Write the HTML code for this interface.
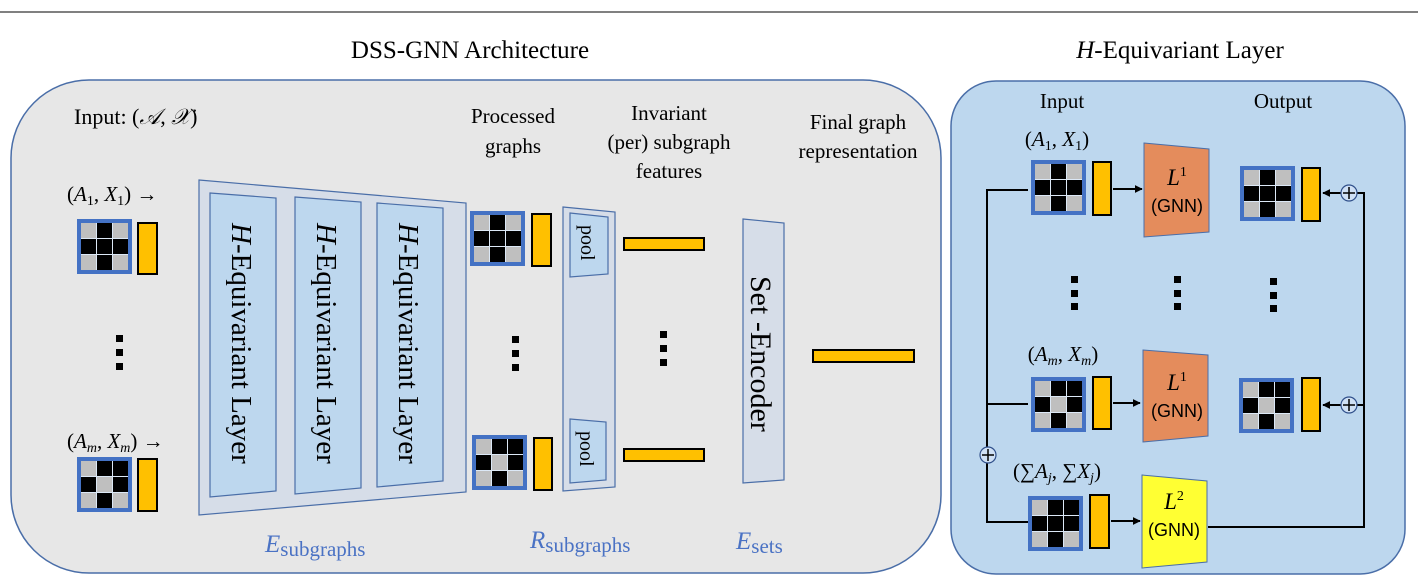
<!DOCTYPE html>
<html><head><meta charset="utf-8"><style>
html,body{margin:0;padding:0;background:#fff}
svg{display:block}
.s{font-family:"Liberation Serif",serif;fill:#000}
.m{font-family:"Liberation Serif",serif;font-style:italic}
.g{font-family:"Liberation Sans",sans-serif}
</style></head><body>
<svg width="1418" height="586" viewBox="0 0 1418 586" xmlns="http://www.w3.org/2000/svg">
<defs>
<symbol id="p1" viewBox="0 0 55 55" width="55" height="55">
<rect width="55" height="55" fill="#4472c4"/><rect x="4" y="4" width="47" height="47" fill="#dce8f6"/>
<rect x="4" y="4" width="15" height="15" fill="#bfbfbf"/><rect x="20" y="4" width="15" height="15" fill="#000"/><rect x="36" y="4" width="15" height="15" fill="#bfbfbf"/>
<rect x="4" y="20" width="15" height="15" fill="#000"/><rect x="20" y="20" width="15" height="15" fill="#000"/><rect x="36" y="20" width="15" height="15" fill="#000"/>
<rect x="4" y="36" width="15" height="15" fill="#bfbfbf"/><rect x="20" y="36" width="15" height="15" fill="#000"/><rect x="36" y="36" width="15" height="15" fill="#bfbfbf"/>
</symbol>
<symbol id="p2" viewBox="0 0 55 55" width="55" height="55">
<rect width="55" height="55" fill="#4472c4"/><rect x="4" y="4" width="47" height="47" fill="#dce8f6"/>
<rect x="4" y="4" width="15" height="15" fill="#bfbfbf"/><rect x="20" y="4" width="15" height="15" fill="#000"/><rect x="36" y="4" width="15" height="15" fill="#000"/>
<rect x="4" y="20" width="15" height="15" fill="#000"/><rect x="20" y="20" width="15" height="15" fill="#bfbfbf"/><rect x="36" y="20" width="15" height="15" fill="#000"/>
<rect x="4" y="36" width="15" height="15" fill="#bfbfbf"/><rect x="20" y="36" width="15" height="15" fill="#000"/><rect x="36" y="36" width="15" height="15" fill="#bfbfbf"/>
</symbol>
<symbol id="p3" viewBox="0 0 55 55" width="55" height="55">
<rect width="55" height="55" fill="#4472c4"/><rect x="4" y="4" width="47" height="47" fill="#dce8f6"/>
<rect x="4" y="4" width="15" height="15" fill="#bfbfbf"/><rect x="20" y="4" width="15" height="15" fill="#000"/><rect x="36" y="4" width="15" height="15" fill="#000"/>
<rect x="4" y="20" width="15" height="15" fill="#000"/><rect x="20" y="20" width="15" height="15" fill="#000"/><rect x="36" y="20" width="15" height="15" fill="#000"/>
<rect x="4" y="36" width="15" height="15" fill="#bfbfbf"/><rect x="20" y="36" width="15" height="15" fill="#000"/><rect x="36" y="36" width="15" height="15" fill="#bfbfbf"/>
</symbol>
<marker id="ar" viewBox="0 0 10 10" refX="9" refY="5" markerWidth="4" markerHeight="4" orient="auto"><path d="M0,0L10,5L0,10z" fill="#000"/></marker>
</defs>

<line x1="0" y1="12" x2="1418" y2="12" stroke="#000" stroke-width="1"/>
<text x="470" y="58" class="s" font-size="25" text-anchor="middle">DSS-GNN Architecture</text>
<text x="1180" y="58" class="s" font-size="25" text-anchor="middle"><tspan class="m">H</tspan>-Equivariant Layer</text>

<!-- Left panel -->
<rect x="11" y="80" width="930" height="493" rx="78" fill="#e7e7e7" stroke="#4a6ea8" stroke-width="1.5"/>
<text x="74" y="124" class="s" font-size="22">Input:  (<tspan class="m">𝒜</tspan>, <tspan class="m">𝒳</tspan>)</text>
<text x="67" y="201" class="s" font-size="21">(<tspan class="m">A</tspan><tspan font-size="14" dy="4">1</tspan><tspan dy="-4">, </tspan><tspan class="m">X</tspan><tspan font-size="14" dy="4">1</tspan><tspan dy="-4">) →</tspan></text>
<use href="#p1" x="77" y="219"/>
<rect x="138" y="223" width="19" height="51" fill="#ffc000" stroke="#000" stroke-width="2"/>
<rect x="116" y="335" width="7" height="7" fill="#000"/><rect x="116" y="349" width="7" height="7" fill="#000"/><rect x="116" y="363" width="7" height="7" fill="#000"/>
<text x="67" y="448" class="s" font-size="21">(<tspan class="m">A</tspan><tspan class="m" font-size="14" dy="4">m</tspan><tspan dy="-4">, </tspan><tspan class="m">X</tspan><tspan class="m" font-size="14" dy="4">m</tspan><tspan dy="-4">) →</tspan></text>
<use href="#p2" x="77" y="457"/>
<rect x="138" y="459" width="19" height="52" fill="#ffc000" stroke="#000" stroke-width="2"/>

<polygon points="199,180 466,203 466,492 199,515" fill="#d6dde8" stroke="#4a6ea8" stroke-width="1.2"/>
<polygon points="210,193 276,198 276,491 210,497" fill="#bdd7ee" stroke="#4a6ea8" stroke-width="1.2"/>
<polygon points="295,197 361,202 361,488 295,494" fill="#bdd7ee" stroke="#4a6ea8" stroke-width="1.2"/>
<polygon points="377,203 443,208 443,481 377,487" fill="#bdd7ee" stroke="#4a6ea8" stroke-width="1.2"/>
<text transform="translate(232,223) rotate(90)" class="s" font-size="29"><tspan class="m">H</tspan>-Equivariant Layer</text>
<text transform="translate(317,223) rotate(90)" class="s" font-size="29"><tspan class="m">H</tspan>-Equivariant Layer</text>
<text transform="translate(399,223) rotate(90)" class="s" font-size="29"><tspan class="m">H</tspan>-Equivariant Layer</text>
<text x="265" y="552" class="m" font-size="25" fill="#4a72c4">E<tspan font-style="normal" font-size="21" dy="4">subgraphs</tspan></text>

<text x="513" y="123" class="s" font-size="21" text-anchor="middle">Processed</text>
<text x="513" y="153" class="s" font-size="21" text-anchor="middle">graphs</text>
<use href="#p1" x="470" y="211"/>
<rect x="532" y="214" width="19" height="52" fill="#ffc000" stroke="#000" stroke-width="2"/>
<rect x="512" y="336" width="7" height="7" fill="#000"/><rect x="512" y="350" width="7" height="7" fill="#000"/><rect x="512" y="364" width="7" height="7" fill="#000"/>
<use href="#p2" x="472" y="435"/>
<rect x="534" y="438" width="18" height="52" fill="#ffc000" stroke="#000" stroke-width="2"/>

<polygon points="563,207 615,212 615,487 563,491" fill="#d6dde8" stroke="#4a6ea8" stroke-width="1.2"/>
<polygon points="570,213 608,217 608,274 570,277" fill="#bdd7ee" stroke="#4a6ea8" stroke-width="1.2"/>
<polygon points="570,419 606,422 606,480 570,483" fill="#bdd7ee" stroke="#4a6ea8" stroke-width="1.2"/>
<text transform="translate(581,225) rotate(90)" class="s" font-size="20">pool</text>
<text transform="translate(580,431) rotate(90)" class="s" font-size="20">pool</text>
<rect x="624" y="238" width="80" height="12" fill="#ffc000" stroke="#000" stroke-width="2"/>
<rect x="624" y="449" width="80" height="12" fill="#ffc000" stroke="#000" stroke-width="2"/>
<rect x="660" y="331" width="7" height="7" fill="#000"/><rect x="660" y="345" width="7" height="7" fill="#000"/><rect x="660" y="359" width="7" height="7" fill="#000"/>
<text x="669" y="120" class="s" font-size="21" text-anchor="middle">Invariant</text>
<text x="669" y="149" class="s" font-size="21" text-anchor="middle">(per) subgraph</text>
<text x="669" y="178" class="s" font-size="21" text-anchor="middle">features</text>
<text x="530" y="548" class="m" font-size="25" fill="#4a72c4">R<tspan font-style="normal" font-size="21" dy="4">subgraphs</tspan></text>

<polygon points="743,219 784,223 784,480 743,483" fill="#d6dde8" stroke="#4a6ea8" stroke-width="1.2"/>
<text transform="translate(751,276) rotate(90)" class="s" font-size="30">Set -Encoder</text>
<text x="736" y="549" class="m" font-size="25" fill="#4a72c4">E<tspan font-style="normal" font-size="21" dy="4">sets</tspan></text>
<text x="858" y="129" class="s" font-size="21" text-anchor="middle">Final graph</text>
<text x="858" y="158" class="s" font-size="21" text-anchor="middle">representation</text>
<rect x="813" y="350" width="101" height="12" fill="#ffc000" stroke="#000" stroke-width="2"/>

<!-- Right panel -->
<rect x="951" y="81" width="454" height="493" rx="45" fill="#bdd7ee" stroke="#4a6ea8" stroke-width="1.5"/>
<text x="1062" y="108" class="s" font-size="21" text-anchor="middle">Input</text>
<text x="1283" y="108" class="s" font-size="21" text-anchor="middle">Output</text>
<text x="1057" y="146" class="s" font-size="21" text-anchor="middle">(<tspan class="m">A</tspan><tspan font-size="14" dy="4">1</tspan><tspan dy="-4">, </tspan><tspan class="m">X</tspan><tspan font-size="14" dy="4">1</tspan><tspan dy="-4">)</tspan></text>
<text x="1063" y="361" class="s" font-size="21" text-anchor="middle">(<tspan class="m">A</tspan><tspan class="m" font-size="14" dy="4">m</tspan><tspan dy="-4">, </tspan><tspan class="m">X</tspan><tspan class="m" font-size="14" dy="4">m</tspan><tspan dy="-4">)</tspan></text>
<text x="1057" y="478" class="s" font-size="21" text-anchor="middle">(∑<tspan class="m">A</tspan><tspan class="m" font-size="14" dy="4">j</tspan><tspan dy="-4">, ∑</tspan><tspan class="m">X</tspan><tspan class="m" font-size="14" dy="4">j</tspan><tspan dy="-4">)</tspan></text>

<g stroke="#000" stroke-width="2" fill="none">
<polyline points="1028,190 987,190 987,522 1028,522"/>
<line x1="987" y1="404" x2="1028" y2="404"/>
<line x1="1113" y1="189" x2="1142" y2="189" marker-end="url(#ar)"/>
<line x1="1113" y1="403" x2="1140" y2="403" marker-end="url(#ar)"/>
<line x1="1111" y1="521" x2="1140" y2="521" marker-end="url(#ar)"/>
<polyline points="1208,527 1364,527 1364,193 1357,193"/>
<line x1="1364" y1="405" x2="1357" y2="405"/>
<line x1="1341" y1="193" x2="1323" y2="193" marker-end="url(#ar)"/>
<line x1="1341" y1="405" x2="1323" y2="405" marker-end="url(#ar)"/>
</g>
<g fill="#cfe0f5" stroke="#2f4f8a" stroke-width="1.2">
<circle cx="1349" cy="193" r="8"/><circle cx="1349" cy="405" r="8"/><circle cx="988" cy="455" r="8"/>
</g>
<g stroke="#000" stroke-width="1.5">
<path d="M1343,193h12M1349,187v12M1343,405h12M1349,399v12M982,455h12M988,449v12"/>
</g>

<use href="#p1" x="1031" y="160"/>
<rect x="1093" y="162" width="18" height="53" fill="#ffc000" stroke="#000" stroke-width="2"/>
<use href="#p2" x="1031" y="377"/>
<rect x="1093" y="377" width="18" height="52" fill="#ffc000" stroke="#000" stroke-width="2"/>
<use href="#p3" x="1028" y="496"/>
<rect x="1090" y="495" width="19" height="53" fill="#ffc000" stroke="#000" stroke-width="2"/>
<use href="#p1" x="1240" y="166"/>
<rect x="1302" y="168" width="18" height="53" fill="#ffc000" stroke="#000" stroke-width="2"/>
<use href="#p2" x="1239" y="378"/>
<rect x="1302" y="378" width="18" height="53" fill="#ffc000" stroke="#000" stroke-width="2"/>

<polygon points="1144,143 1209,149 1209,232 1144,237" fill="#e48c5c" stroke="#4a6ea8" stroke-width="1"/>
<polygon points="1143,350 1208,355 1208,436 1143,442" fill="#e48c5c" stroke="#4a6ea8" stroke-width="1"/>
<polygon points="1142,475 1207,481 1207,562 1142,568" fill="#ffff33" stroke="#4a6ea8" stroke-width="1"/>
<text x="1177" y="185" class="m" font-size="23" text-anchor="middle">L<tspan font-style="normal" font-size="14" dy="-9">1</tspan></text>
<text x="1177" y="212" class="g" font-size="18" text-anchor="middle">(GNN)</text>
<text x="1177" y="390" class="m" font-size="23" text-anchor="middle">L<tspan font-style="normal" font-size="14" dy="-9">1</tspan></text>
<text x="1177" y="417" class="g" font-size="18" text-anchor="middle">(GNN)</text>
<text x="1174" y="509" class="m" font-size="23" text-anchor="middle">L<tspan font-style="normal" font-size="14" dy="-9">2</tspan></text>
<text x="1174" y="536" class="g" font-size="18" text-anchor="middle">(GNN)</text>

<rect x="1071" y="276" width="7" height="7" fill="#000"/><rect x="1071" y="290" width="7" height="7" fill="#000"/><rect x="1071" y="303" width="7" height="7" fill="#000"/>
<rect x="1174" y="276" width="7" height="7" fill="#000"/><rect x="1174" y="290" width="7" height="7" fill="#000"/><rect x="1174" y="303" width="7" height="7" fill="#000"/>
<rect x="1270" y="278" width="7" height="7" fill="#000"/><rect x="1270" y="292" width="7" height="7" fill="#000"/><rect x="1270" y="305" width="7" height="7" fill="#000"/>
</svg>
</body></html>
